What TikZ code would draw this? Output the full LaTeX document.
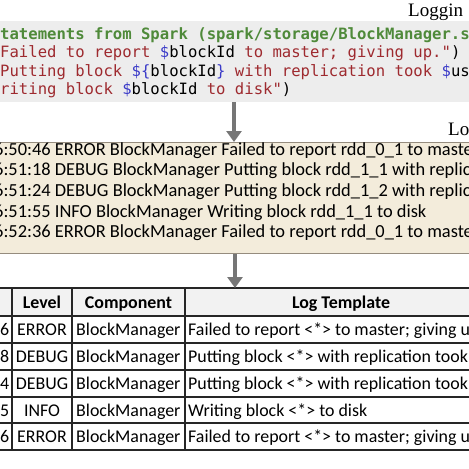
\documentclass[tikz,border=0pt]{standalone}
\usepackage{fontspec}
\setmainfont{Carlito}
\newfontfamily\codefont{DejaVu Sans Mono}
\newfontfamily\titlefont{Liberation Serif}
\usepackage{tikz}
\usetikzlibrary{positioning, arrows.meta, calc}
\definecolor{Code_Bg}{HTML}{EDEDED}
\definecolor{Code_Green}{HTML}{4F8A3A}
\definecolor{Code_Red}{HTML}{9E2A2F}
\definecolor{Code_Blue}{HTML}{3B3BC8}
\definecolor{Log_Fill}{HTML}{F3ECDB}
\definecolor{Log_Border}{HTML}{958C7E}
\definecolor{Head_Fill}{HTML}{F2F2F2}
\definecolor{Arrow_Gray}{HTML}{767676}
\newcommand{\cred}[1]{\textcolor{Code_Red}{#1}}
\newcommand{\cblue}[1]{\textcolor{Code_Blue}{#1}}

\begin{document}
\begin{tikzpicture}[x=1pt, y=-1pt,
  flow/.style={-{Triangle[length=11pt, width=15pt]}, line width=4pt, Arrow_Gray},
  codeline/.style={anchor=base west, inner sep=0pt, font=\codefont\fontsize{15.6}{18}\selectfont},
  logline/.style={anchor=base west, inner sep=0pt, font=\fontsize{18.4}{21}\selectfont},
  cell/.style={anchor=base, inner sep=0pt, font=\fontsize{17.9}{20}\selectfont},
  lcell/.style={cell, anchor=base west},
  rule/.style={line width=1.1pt, black!85},
  title/.style={anchor=base west, inner sep=0pt, font=\titlefont\fontsize{19}{22}\selectfont}
]
  \useasboundingbox (0,0) rectangle (469,469);
  \clip (0,0) rectangle (469,469);

  % Code snippet
  \node[title] (title1) at (408,16) {Loggin};
  \node[fill=Code_Bg, anchor=north west, inner sep=0pt,
    minimum width=520pt, minimum height=81pt] (code) at (-25,21) {};
  \node[codeline, Code_Green, font=\codefont\bfseries\fontsize{15.6}{18}\selectfont] (code1) at (0,39)
    {tatements from Spark (spark/storage/BlockManager.s};
  \node[codeline] (code2) at (0,57.5)
    {\cred{Failed to report} \cblue{\$}blockId \cred{to master; giving up."})};
  \node[codeline] (code3) at (0,76)
    {\cred{Putting block} \cblue{\$\{}blockId\cblue{\}} \cred{with replication took} \cblue{\$}us};
  \node[codeline] (code4) at (0,94.5)
    {\cred{riting block} \cblue{\$}blockId \cred{to disk"})};

  % Raw log messages
  \node[title] (title2) at (448,135) {Lo};
  \node[fill=Log_Fill, draw=Log_Border, line width=1.3pt, anchor=north west,
    minimum width=520pt, minimum height=111pt] (log) at (-25,142) {};
  \node[logline] (log1) at (-6,155) {6:50:46 ERROR BlockManager Failed to report rdd\_0\_1 to maste};
  \node[logline] (log2) at (-6,175.7) {6:51:18 DEBUG BlockManager Putting block rdd\_1\_1 with replic};
  \node[logline] (log3) at (-6,196.4) {6:51:24 DEBUG BlockManager Putting block rdd\_1\_2 with replic};
  \node[logline] (log4) at (-6,217.1) {6:51:55 INFO BlockManager Writing block rdd\_1\_1 to disk};
  \node[logline] (log5) at (-6,237.8) {6:52:36 ERROR BlockManager Failed to report rdd\_0\_1 to maste};

  % Structured table
  \node[fill=Head_Fill, anchor=north west, inner sep=0pt,
    minimum width=520pt, minimum height=28pt] (head) at (-25,288) {};
  \foreach \y in {288,316,343,370,397,423,450}
    \draw[rule] (-5,\y) -- (475,\y);
  \foreach \x in {12,72,185}
    \draw[rule] (\x,288) -- (\x,450);
  \node[cell, font=\bfseries\fontsize{17.9}{20}\selectfont] (hlevel) at (42,308) {Level};
  \node[cell, font=\bfseries\fontsize{17.9}{20}\selectfont] (hcomp) at (128.5,308) {Component};
  \node[cell, font=\bfseries\fontsize{17.9}{20}\selectfont] (htpl) at (341,308) {Log Template};
  \foreach \t/\lv/\tpl/\y [count=\i] in {
      6/ERROR/{Failed to report <*> to master; giving u}/335.5,
      8/DEBUG/{Putting block <*> with replication took}/362.5,
      4/DEBUG/{Putting block <*> with replication took}/389.5,
      5/INFO/{Writing block <*> to disk}/416,
      6/ERROR/{Failed to report <*> to master; giving u}/442.5} {
    \node[cell, anchor=base east] (time\i) at (9.5,\y) {\t};
    \node[cell] (level\i) at (42,\y) {\lv};
    \node[lcell] (comp\i) at (76,\y) {BlockManager};
    \node[lcell] (tpl\i) at (188,\y) {\tpl};
  }

  % Arrows between stages
  \coordinate (a1) at (234,0);
  \coordinate (a2) at (235,0);
  \draw[flow] (code.south -| a1) -- (log.north -| a1);
  \draw[flow] (log.south -| a2) -- (head.north -| a2);
\end{tikzpicture}
\end{document}
